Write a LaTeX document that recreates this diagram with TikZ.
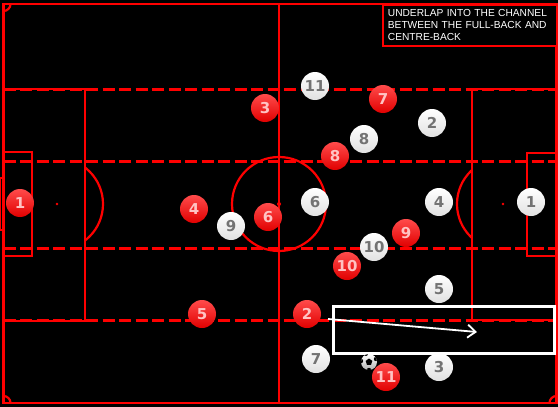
\documentclass[tikz,border=0pt]{standalone}
\usepackage{fontspec}
\setmainfont{Liberation Sans}
\newfontfamily\numfont{DejaVu Sans}
\usetikzlibrary{arrows.meta,shapes.geometric}
\definecolor{pitchred}{RGB}{255,0,0}
\definecolor{redtop}{RGB}{255,75,75}
\definecolor{redbot}{RGB}{225,0,0}
\definecolor{rednum}{RGB}{255,195,195}
\definecolor{whnum}{RGB}{115,115,115}
\definecolor{whbot}{RGB}{225,225,225}
\begin{document}
\begin{tikzpicture}[x=1pt,y=-1pt,
  pline/.style={draw=pitchred, line width=2.2pt},
  dline/.style={draw=pitchred, line width=3pt, dash pattern=on 12pt off 4.5pt},
  redp/.style={circle, minimum size=28pt, inner sep=0pt, top color=redtop, bottom color=redbot, text=rednum, font=\numfont\bfseries\fontsize{15}{15}\selectfont},
  whitep/.style={circle, minimum size=28pt, inner sep=0pt, top color=white, bottom color=whbot, text=whnum, font=\numfont\bfseries\fontsize{15}{15}\selectfont},
  titlebox/.style={draw=pitchred, line width=1.8pt, fill=black, text=white, anchor=north west, minimum width=174pt, minimum height=41pt, inner xsep=5pt, inner ysep=0pt, text width=164pt, align=left, font=\fontsize{10.2}{12}\selectfont},
  zonebox/.style={draw=white, line width=3pt, anchor=north west, minimum width=221pt, minimum height=47pt, inner sep=0pt},
  run/.style={draw=white, line width=1.8pt, -{Straight Barb[length=8pt,width=13pt]}},
  ballst/.style={circle, minimum size=16pt, inner sep=0pt, top color=white, bottom color=gray!60}
]
\fill[black] (0,0) rectangle (558,407);
\useasboundingbox (0,0) rectangle (558,407);
% pitch outline and halfway line
\draw[pline] (3.5,4) rectangle (556.5,403);
\draw[pline] (279,4) -- (279,403);
\draw[pline] (279,204) circle[radius=47pt];
\fill[pitchred] (279,204) circle[radius=2pt];
% penalty areas
\draw[pline] (3.5,89) rectangle (85,321);
\draw[pline] (472,89) rectangle (556.5,320);
% goal areas
\draw[pline] (3.5,152) rectangle (32,256);
\draw[pline] (527,153) rectangle (556.5,256);
% goals
\draw[pline] (3.5,178) -- (0,178) -- (0,230) -- (3.5,230);
\draw[pline] (556.5,178) -- (558,178) -- (558,230) -- (556.5,230);
% penalty spots
\fill[pitchred] (57,204) circle[radius=1.3pt];
\fill[pitchred] (503,204) circle[radius=1.3pt];
% penalty arcs
\begin{scope}
\clip (85,0) rectangle (200,407);
\draw[pline] (57,204) circle[radius=46pt];
\end{scope}
\begin{scope}
\clip (472,0) rectangle (360,407);
\draw[pline] (503,204) circle[radius=46pt];
\end{scope}
% corner arcs
\begin{scope}
\clip (3.5,4) rectangle (556.5,403);
\draw[pline] (3.5,4) circle[radius=7pt];
\draw[pline] (556.5,4) circle[radius=7pt];
\draw[pline] (3.5,403) circle[radius=7pt];
\draw[pline] (556.5,403) circle[radius=7pt];
\end{scope}
% channel lines
\draw[dline] (3.5,89) -- (556.5,89);
\draw[dline] (3.5,161) -- (556.5,161);
\draw[dline] (3.5,248) -- (556.5,248);
\draw[dline] (3.5,320) -- (556.5,320);
% title
\node[titlebox] (title) at (382,4) {UNDERLAP INTO THE CHANNEL\\BETWEEN THE FULL-BACK AND\\CENTRE-BACK};
% zone
\node[zonebox] (zone) at (332,304.5) {};
% red players
\node[redp] (r1) at (20,203) {1};
\node[redp] (r3) at (265,108) {3};
\node[redp] (r7) at (383,99) {7};
\node[redp] (r8) at (335,156) {8};
\node[redp] (r4) at (194,209) {4};
\node[redp] (r6) at (268,217) {6};
\node[redp] (r9) at (406,233) {9};
\node[redp] (r10) at (347,266) {10};
\node[redp] (r5) at (202,314) {5};
\node[redp] (r2) at (307,314) {2};
\node[redp] (r11) at (386,377) {11};
% white players
\node[whitep] (w11) at (315,86) {11};
\node[whitep] (w2) at (432,123) {2};
\node[whitep] (w8) at (364,139) {8};
\node[whitep] (w6) at (315,202) {6};
\node[whitep] (w4) at (439,202) {4};
\node[whitep] (w1) at (531,202) {1};
\node[whitep] (w9) at (231,226) {9};
\node[whitep] (w10) at (374,247) {10};
\node[whitep] (w5) at (439,289) {5};
\node[whitep] (w7) at (316,359) {7};
\node[whitep] (w3) at (439,367) {3};
% ball
\node[ballst] (ball) at (369,362) {};
\node[regular polygon, regular polygon sides=5, fill=black, minimum size=7pt, inner sep=0pt] (patch) at (ball.center) {};
\begin{scope}
\clip (ball.center) circle[radius=8pt];
\fill[black] (ball.center) ++(-8,-1) circle[radius=2.2pt];
\fill[black] (ball.center) ++(7,-3) circle[radius=2.2pt];
\fill[black] (ball.center) ++(0,8) circle[radius=2.2pt];
\fill[black] (ball.center) ++(-3,-8) circle[radius=2pt];
\end{scope}
% run
\coordinate (runstart) at (328,319);
\coordinate (runend) at (477,332);
\draw[run] (runstart) -- (runend);
\end{tikzpicture}
\end{document}
